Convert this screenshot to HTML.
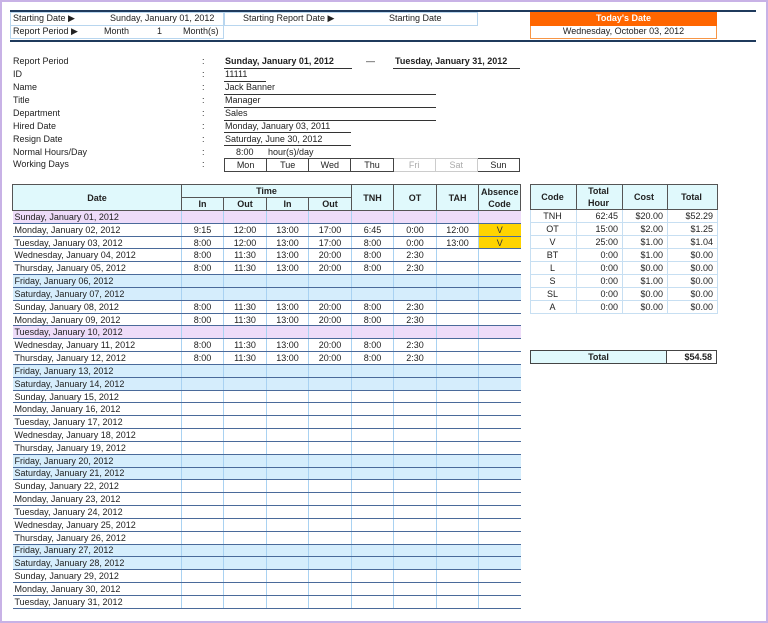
<!DOCTYPE html>
<html><head><meta charset="utf-8"><style>
*{margin:0;padding:0;box-sizing:border-box}
body{width:768px;height:623px;background:#fff;position:relative;overflow:hidden;font-family:"Liberation Sans",Arial,sans-serif;font-size:9px;color:#222}
.frame{position:absolute;left:0;top:0;width:768px;height:623px;border:2px solid #c8b2e6}
.a{position:absolute;white-space:nowrap;line-height:13px}
.hl{position:absolute;background:#1f3a5c}
.ul{position:absolute;height:1px;background:#333}
table{position:absolute;border-collapse:collapse;table-layout:fixed}
td{font-size:9px;white-space:nowrap;overflow:hidden;padding:0 2px;line-height:12px}
#m td{height:12.84px;line-height:10px;border-bottom:1px solid #4a6a9a;border-left:1px solid #a9d2f2;text-align:center}
#m td:first-child{text-align:left;border-left:none}
#m tr.h td{background:#e0f9fc;border:1px solid #555;font-weight:bold;height:13px;line-height:12px;text-align:center}
#m tr.p td{background:#eedcf9}
#m tr.b td{background:#d5edfc}
.y{background:#ffd400!important;color:#333}
#s td{height:12.85px;border:1px solid #c7dff2;text-align:right;padding-right:4px}
#s td:first-child{text-align:center}
#s tr.h td{background:#e0f9fc;border:1px solid #555;font-weight:bold;text-align:center;height:13px}
.bx{position:absolute;border:1px solid #b8d6ef}
</style></head><body>
<div class="frame"></div>
<div class="hl" style="left:10px;top:10px;width:746px;height:2px"></div>
<div class="hl" style="left:10px;top:40px;width:746px;height:2px"></div>
<div class="bx" style="left:10px;top:12px;width:214px;height:27px"></div>
<div class="bx" style="left:224px;top:12px;width:254px;height:14px"></div>
<div class="bx" style="left:10px;top:25px;width:214px;height:1px;border-width:1px 0 0 0"></div>
<div class="a" style="left:13px;top:12px">Starting Date ▶</div>
<div class="a" style="left:110px;top:12px">Sunday, January 01, 2012</div>
<div class="a" style="left:243px;top:12px">Starting Report Date ▶</div>
<div class="a" style="left:389px;top:12px">Starting Date</div>
<div class="a" style="left:13px;top:25px">Report Period ▶</div>
<div class="a" style="left:104px;top:25px">Month</div>
<div class="a" style="left:157px;top:25px">1</div>
<div class="a" style="left:183px;top:25px">Month(s)</div>
<div style="position:absolute;left:530px;top:12px;width:187px;height:27px;border:1px solid #f79646"></div>
<div class="a" style="left:530px;top:12px;width:187px;height:14px;background:#ff6600;color:#fff;font-weight:bold;text-align:center">Today's Date</div>
<div class="a" style="left:530px;top:25px;width:187px;text-align:center">Wednesday, October 03, 2012</div>

<div class="a" style="left:13px;top:55px">Report Period</div>
<div class="a" style="left:13px;top:68px">ID</div>
<div class="a" style="left:13px;top:81px">Name</div>
<div class="a" style="left:13px;top:94px">Title</div>
<div class="a" style="left:13px;top:107px">Department</div>
<div class="a" style="left:13px;top:120px">Hired Date</div>
<div class="a" style="left:13px;top:133px">Resign Date</div>
<div class="a" style="left:13px;top:146px">Normal Hours/Day</div>
<div class="a" style="left:13px;top:158px">Working Days</div>
<div class="a" style="left:202px;top:55px">:</div><div class="a" style="left:202px;top:68px">:</div><div class="a" style="left:202px;top:81px">:</div><div class="a" style="left:202px;top:94px">:</div><div class="a" style="left:202px;top:107px">:</div><div class="a" style="left:202px;top:120px">:</div><div class="a" style="left:202px;top:133px">:</div><div class="a" style="left:202px;top:146px">:</div><div class="a" style="left:202px;top:158px">:</div>
<div class="a" style="left:225px;top:55px;font-weight:bold">Sunday, January 01, 2012</div>
<div class="a" style="left:366px;top:55px">—</div>
<div class="a" style="left:395px;top:55px;font-weight:bold">Tuesday, January 31, 2012</div>
<div class="ul" style="left:224px;top:68px;width:128px"></div>
<div class="ul" style="left:393px;top:68px;width:127px"></div>
<div class="a" style="left:225px;top:68px">11111</div><div class="ul" style="left:224px;top:81px;width:42px"></div>
<div class="a" style="left:225px;top:81px">Jack Banner</div><div class="ul" style="left:224px;top:94px;width:212px"></div>
<div class="a" style="left:225px;top:94px">Manager</div><div class="ul" style="left:224px;top:107px;width:212px"></div>
<div class="a" style="left:225px;top:107px">Sales</div><div class="ul" style="left:224px;top:120px;width:212px"></div>
<div class="a" style="left:225px;top:120px">Monday, January 03, 2011</div><div class="ul" style="left:224px;top:132px;width:127px"></div>
<div class="a" style="left:225px;top:133px">Saturday, June 30, 2012</div><div class="ul" style="left:224px;top:145px;width:127px"></div>
<div class="a" style="left:236px;top:146px">8:00</div><div class="a" style="left:268px;top:146px">hour(s)/day</div>
<table style="left:224px;top:158px;width:296px"><tr>
<td style="border:1px solid #444;text-align:center;height:13px">Mon</td><td style="border:1px solid #444;text-align:center">Tue</td><td style="border:1px solid #444;text-align:center">Wed</td><td style="border:1px solid #444;text-align:center">Thu</td><td style="border:1px solid #ccc;text-align:center;color:#aaa">Fri</td><td style="border:1px solid #ccc;text-align:center;color:#aaa">Sat</td><td style="border:1px solid #444;text-align:center">Sun</td></tr></table>

<table id="m" style="left:12px;top:184px;width:508px">
<colgroup><col style="width:169px"><col style="width:42px"><col style="width:43px"><col style="width:42px"><col style="width:43px"><col style="width:42px"><col style="width:43px"><col style="width:42px"><col style="width:42px"></colgroup>
<tr class="h"><td rowspan="2" style="text-align:center">Date</td><td colspan="4">Time</td><td rowspan="2">TNH</td><td rowspan="2">OT</td><td rowspan="2">TAH</td><td rowspan="2" style="line-height:12px">Absence<br>Code</td></tr>
<tr class="h"><td>In</td><td>Out</td><td>In</td><td>Out</td></tr>
<tr class="p"><td>Sunday, January 01, 2012</td><td></td><td></td><td></td><td></td><td></td><td></td><td></td><td></td></tr>
<tr><td>Monday, January 02, 2012</td><td>9:15</td><td>12:00</td><td>13:00</td><td>17:00</td><td>6:45</td><td>0:00</td><td>12:00</td><td class="y">V</td></tr>
<tr><td>Tuesday, January 03, 2012</td><td>8:00</td><td>12:00</td><td>13:00</td><td>17:00</td><td>8:00</td><td>0:00</td><td>13:00</td><td class="y">V</td></tr>
<tr><td>Wednesday, January 04, 2012</td><td>8:00</td><td>11:30</td><td>13:00</td><td>20:00</td><td>8:00</td><td>2:30</td><td></td><td></td></tr>
<tr><td>Thursday, January 05, 2012</td><td>8:00</td><td>11:30</td><td>13:00</td><td>20:00</td><td>8:00</td><td>2:30</td><td></td><td></td></tr>
<tr class="b"><td>Friday, January 06, 2012</td><td></td><td></td><td></td><td></td><td></td><td></td><td></td><td></td></tr>
<tr class="b"><td>Saturday, January 07, 2012</td><td></td><td></td><td></td><td></td><td></td><td></td><td></td><td></td></tr>
<tr><td>Sunday, January 08, 2012</td><td>8:00</td><td>11:30</td><td>13:00</td><td>20:00</td><td>8:00</td><td>2:30</td><td></td><td></td></tr>
<tr><td>Monday, January 09, 2012</td><td>8:00</td><td>11:30</td><td>13:00</td><td>20:00</td><td>8:00</td><td>2:30</td><td></td><td></td></tr>
<tr class="p"><td>Tuesday, January 10, 2012</td><td></td><td></td><td></td><td></td><td></td><td></td><td></td><td></td></tr>
<tr><td>Wednesday, January 11, 2012</td><td>8:00</td><td>11:30</td><td>13:00</td><td>20:00</td><td>8:00</td><td>2:30</td><td></td><td></td></tr>
<tr><td>Thursday, January 12, 2012</td><td>8:00</td><td>11:30</td><td>13:00</td><td>20:00</td><td>8:00</td><td>2:30</td><td></td><td></td></tr>
<tr class="b"><td>Friday, January 13, 2012</td><td></td><td></td><td></td><td></td><td></td><td></td><td></td><td></td></tr>
<tr class="b"><td>Saturday, January 14, 2012</td><td></td><td></td><td></td><td></td><td></td><td></td><td></td><td></td></tr>
<tr><td>Sunday, January 15, 2012</td><td></td><td></td><td></td><td></td><td></td><td></td><td></td><td></td></tr>
<tr><td>Monday, January 16, 2012</td><td></td><td></td><td></td><td></td><td></td><td></td><td></td><td></td></tr>
<tr><td>Tuesday, January 17, 2012</td><td></td><td></td><td></td><td></td><td></td><td></td><td></td><td></td></tr>
<tr><td>Wednesday, January 18, 2012</td><td></td><td></td><td></td><td></td><td></td><td></td><td></td><td></td></tr>
<tr><td>Thursday, January 19, 2012</td><td></td><td></td><td></td><td></td><td></td><td></td><td></td><td></td></tr>
<tr class="b"><td>Friday, January 20, 2012</td><td></td><td></td><td></td><td></td><td></td><td></td><td></td><td></td></tr>
<tr class="b"><td>Saturday, January 21, 2012</td><td></td><td></td><td></td><td></td><td></td><td></td><td></td><td></td></tr>
<tr><td>Sunday, January 22, 2012</td><td></td><td></td><td></td><td></td><td></td><td></td><td></td><td></td></tr>
<tr><td>Monday, January 23, 2012</td><td></td><td></td><td></td><td></td><td></td><td></td><td></td><td></td></tr>
<tr><td>Tuesday, January 24, 2012</td><td></td><td></td><td></td><td></td><td></td><td></td><td></td><td></td></tr>
<tr><td>Wednesday, January 25, 2012</td><td></td><td></td><td></td><td></td><td></td><td></td><td></td><td></td></tr>
<tr><td>Thursday, January 26, 2012</td><td></td><td></td><td></td><td></td><td></td><td></td><td></td><td></td></tr>
<tr class="b"><td>Friday, January 27, 2012</td><td></td><td></td><td></td><td></td><td></td><td></td><td></td><td></td></tr>
<tr class="b"><td>Saturday, January 28, 2012</td><td></td><td></td><td></td><td></td><td></td><td></td><td></td><td></td></tr>
<tr><td>Sunday, January 29, 2012</td><td></td><td></td><td></td><td></td><td></td><td></td><td></td><td></td></tr>
<tr><td>Monday, January 30, 2012</td><td></td><td></td><td></td><td></td><td></td><td></td><td></td><td></td></tr>
<tr><td>Tuesday, January 31, 2012</td><td></td><td></td><td></td><td></td><td></td><td></td><td></td><td></td></tr>
</table>

<table id="s" style="left:530px;top:184px;width:187px">
<colgroup><col style="width:46px"><col style="width:46px"><col style="width:45px"><col style="width:50px"></colgroup>
<tr class="h"><td rowspan="2">Code</td><td rowspan="2" style="line-height:12px">Total<br>Hour</td><td rowspan="2">Cost</td><td rowspan="2">Total</td></tr>
<tr class="h"></tr>
<tr><td>TNH</td><td>62:45</td><td>$20.00</td><td>$52.29</td></tr>
<tr><td>OT</td><td>15:00</td><td>$2.00</td><td>$1.25</td></tr>
<tr><td>V</td><td>25:00</td><td>$1.00</td><td>$1.04</td></tr>
<tr><td>BT</td><td>0:00</td><td>$1.00</td><td>$0.00</td></tr>
<tr><td>L</td><td>0:00</td><td>$0.00</td><td>$0.00</td></tr>
<tr><td>S</td><td>0:00</td><td>$1.00</td><td>$0.00</td></tr>
<tr><td>SL</td><td>0:00</td><td>$0.00</td><td>$0.00</td></tr>
<tr><td>A</td><td>0:00</td><td>$0.00</td><td>$0.00</td></tr>
</table>
<div class="a" style="left:530px;top:350px;width:137px;height:14px;background:#e0f9fc;border:1px solid #444;text-align:center;font-weight:bold;line-height:12px">Total</div>
<div class="a" style="left:666px;top:350px;width:51px;height:14px;border:1px solid #444;text-align:right;padding-right:4px;font-weight:bold;line-height:12px">$54.58</div>
</body></html>
